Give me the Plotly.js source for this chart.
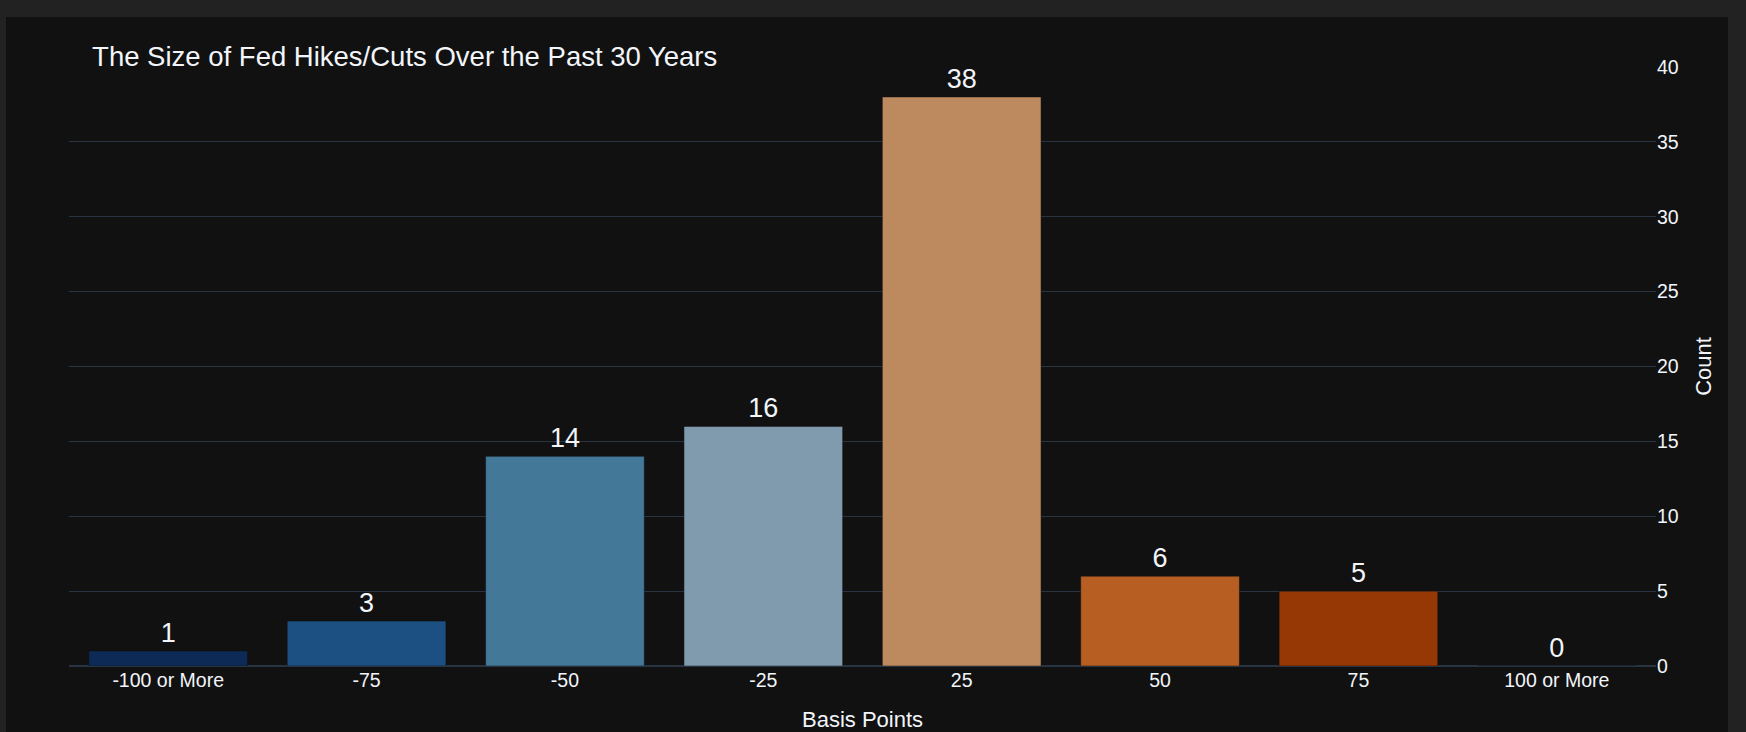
<!DOCTYPE html>
<html>
<head>
<meta charset="utf-8">
<script src="https://cdn.plot.ly/plotly-3.0.1.min.js"></script>
<style>
html,body{margin:0;padding:0;background:#222222;width:1746px;height:732px;overflow:hidden}
#chart{position:absolute;left:6px;top:17px;width:1722px;height:715px;}
</style>
</head>
<body>
<div id="chart"></div>
<script>
const categories = ["-100 or More", "-75", "-50", "-25", "25", "50", "75", "100 or More"];
const counts = [1, 3, 14, 16, 38, 6, 5, 0];
const barColors = ["#0c2a55", "#1c5083", "#437899", "#7f9bad", "#bd8a5f", "#b75e22", "#963706", "#7a2c06"];
const chartTitle = "The Size of Fed Hikes/Cuts Over the Past 30 Years";
const xTitle = "Basis Points";
const yTitle = "Count";

const fontFam = '"Liberation Sans", Arial, sans-serif';
const txtColor = "#f2f5fa";

const trace = {
  type: "bar",
  x: categories,
  y: counts,
  text: counts.map(String),
  textposition: "outside",
  cliponaxis: false,
  textfont: {family: fontFam, size: 27, color: txtColor},
  marker: {color: barColors, line: {color: "rgb(17,17,17)", width: 0.5}},
  hoverinfo: "x+y"
};

const layout = {
  width: 1722,
  height: 715,
  paper_bgcolor: "rgb(17,17,17)",
  plot_bgcolor: "rgb(17,17,17)",
  font: {family: fontFam, color: txtColor, size: 19.5},
  margin: {l: 63, r: 72, t: 50, b: 66, pad: 0},
  bargap: 0.2,
  showlegend: false,
  title: {
    text: chartTitle,
    x: 0.05, xanchor: "left",
    y: 0.945, yref: "container", yanchor: "middle",
    font: {family: fontFam, size: 27.5, color: txtColor}
  },
  xaxis: {
    type: "category",
    showgrid: false,
    zeroline: false,
    showline: false,
    ticks: "",
    automargin: false,
    tickfont: {family: fontFam, size: 19.5, color: txtColor},
    title: {text: xTitle, font: {family: fontFam, size: 22, color: txtColor}, standoff: 22}
  },
  yaxis: {
    side: "right",
    range: [0, 40],
    dtick: 5,
    tick0: 0,
    ticks: "",
    showgrid: true,
    gridcolor: "#283442",
    gridwidth: 1,
    zeroline: true,
    zerolinecolor: "#283442",
    zerolinewidth: 2,
    automargin: false,
    tickfont: {family: fontFam, size: 19.5, color: txtColor},
    title: {text: yTitle, font: {family: fontFam, size: 22, color: txtColor}, standoff: 17}
  }
};

Plotly.newPlot("chart", [trace], layout, {displayModeBar: false, responsive: false});
</script>
</body>
</html>
